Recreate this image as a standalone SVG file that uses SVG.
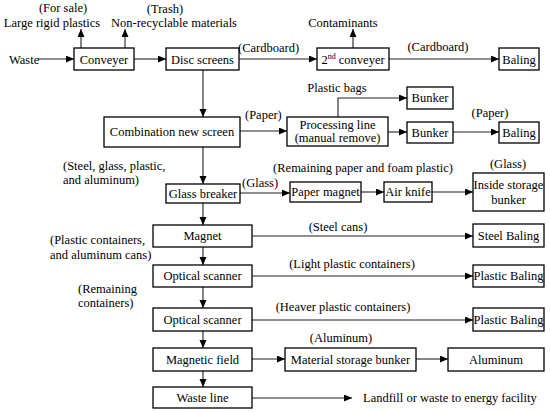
<svg xmlns="http://www.w3.org/2000/svg" width="550" height="412" viewBox="0 0 550 412" font-family="Liberation Serif, Tinos, DejaVu Serif, Times New Roman, serif">
<style>
text{font-family:'Liberation Serif','Tinos','DejaVu Serif','Times New Roman',serif;font-size:12.5px;fill:#000}
.c{text-anchor:middle}
rect{fill:#fff;stroke:#000;stroke-width:1.3}
#connectors path{fill:none;stroke:#222;stroke-width:1.1;marker-end:url(#ah)}
</style>
<defs>
<marker id="ah" markerUnits="userSpaceOnUse" markerWidth="9" markerHeight="8" refX="8" refY="3.5" orient="auto">
<path d="M0,0 L8,3.5 L0,7 z" fill="#000"/>
</marker>
</defs>
<rect width="550" height="412" style="fill:#fff;stroke:none"/>
<g id="connectors">
<path d="M38,59 H74"/>
<path d="M134,59 H166"/>
<path d="M81,48 V29"/>
<path d="M125,48 V29"/>
<path d="M239,59 H317"/>
<path d="M389,59 H499"/>
<path d="M353,48 V29"/>
<path d="M203,70 V117"/>
<path d="M240,131 H287"/>
<path d="M338,117 V98 H407"/>
<path d="M388,132 H407"/>
<path d="M453,132 H499"/>
<path d="M203,147 V184"/>
<path d="M240,193 H290"/>
<path d="M361,192 H384"/>
<path d="M432,192 H473"/>
<path d="M203,203 V225"/>
<path d="M252,236 H473"/>
<path d="M203,247 V265"/>
<path d="M252,276 H473"/>
<path d="M203,287 V308"/>
<path d="M252,320 H473"/>
<path d="M203,331 V348"/>
<path d="M252,359 H285"/>
<path d="M416,359 H448"/>
<path d="M203,371 V387"/>
<path d="M252,398 H352"/>
</g>
<g id="labels">
<text class="c" x="63" y="12">(For sale)</text>
<text class="c" x="52" y="27">Large rigid plastics</text>
<text class="c" x="165" y="13">(Trash)</text>
<text class="c" x="174" y="27">Non-recyclable materials</text>
<text x="9" y="64">Waste</text>
<text x="238" y="52">(Cardboard)</text>
<text class="c" x="343" y="27">Contaminants</text>
<text class="c" x="438" y="51">(Cardboard)</text>
<text x="245" y="119">(Paper)</text>
<text class="c" x="337" y="92">Plastic bags</text>
<text class="c" x="490" y="117">(Paper)</text>
<text x="63" y="170">(Steel, glass, plastic,</text>
<text x="63" y="184">and aluminum)</text>
<text x="242" y="187">(Glass)</text>
<text class="c" x="363" y="172">(Remaining paper and foam plastic)</text>
<text class="c" x="508" y="168">(Glass)</text>
<text class="c" x="338" y="231">(Steel cans)</text>
<text x="50" y="244">(Plastic containers,</text>
<text x="50" y="259">and aluminum cans)</text>
<text class="c" x="352" y="268">(Light plastic containers)</text>
<text x="78" y="293">(Remaining</text>
<text x="78" y="307">containers)</text>
<text class="c" x="343" y="311">(Heaver plastic containers)</text>
<text class="c" x="341" y="342">(Aluminum)</text>
<text x="363" y="402">Landfill or waste to energy facility</text>
</g>
<g id="conveyer"><rect x="74" y="48" width="60" height="22"/><text class="c" x="104" y="64">Conveyer</text></g>
<g id="disc-screens"><rect x="166" y="48" width="73" height="22"/><text class="c" x="202.5" y="64">Disc screens</text></g>
<g id="second-conveyer"><rect x="317" y="48" width="72" height="22"/><text class="c" x="353" y="64">2<tspan font-size="8" dy="-5">nd</tspan><tspan dy="5"> conveyer</tspan></text></g>
<g id="baling-1"><rect x="499" y="48" width="40" height="22"/><text class="c" x="519" y="64">Baling</text></g>
<g id="combination"><rect x="104" y="117" width="136" height="30"/><text class="c" x="172" y="136">Combination new screen</text></g>
<g id="processing-line"><rect x="287" y="117" width="101" height="29"/><text class="c" x="337.5" y="129">Processing line</text><text class="c" x="337.5" y="142">(manual remove)</text></g>
<g id="bunker-1"><rect x="407" y="87" width="46" height="22"/><text class="c" x="430" y="102">Bunker</text></g>
<g id="bunker-2"><rect x="407" y="122" width="46" height="21"/><text class="c" x="430" y="137">Bunker</text></g>
<g id="baling-2"><rect x="499" y="122" width="40" height="21"/><text class="c" x="519" y="137">Baling</text></g>
<g id="glass-breaker"><rect x="166" y="184" width="74" height="19"/><text class="c" x="203" y="198">Glass breaker</text></g>
<g id="paper-magnet"><rect x="290" y="182" width="71" height="20"/><text class="c" x="325.5" y="196">Paper magnet</text></g>
<g id="air-knife"><rect x="384" y="182" width="48" height="20"/><text class="c" x="408" y="196">Air knife</text></g>
<g id="inside-storage"><rect x="473" y="173" width="71" height="38"/><text class="c" x="508.5" y="189">Inside storage</text><text class="c" x="508.5" y="204">bunker</text></g>
<g id="magnet"><rect x="153" y="225" width="99" height="22"/><text class="c" x="202.5" y="240">Magnet</text></g>
<g id="steel-baling"><rect x="473" y="224" width="71" height="23"/><text class="c" x="508.5" y="240">Steel Baling</text></g>
<g id="optical-1"><rect x="153" y="265" width="99" height="22"/><text class="c" x="202.5" y="280">Optical scanner</text></g>
<g id="plastic-baling-1"><rect x="473" y="265" width="71" height="22"/><text class="c" x="508.5" y="280">Plastic Baling</text></g>
<g id="optical-2"><rect x="153" y="308" width="99" height="23"/><text class="c" x="202.5" y="324">Optical scanner</text></g>
<g id="plastic-baling-2"><rect x="473" y="308" width="71" height="23"/><text class="c" x="508.5" y="324">Plastic Baling</text></g>
<g id="magnetic-field"><rect x="153" y="348" width="99" height="23"/><text class="c" x="202.5" y="364">Magnetic field</text></g>
<g id="material-storage"><rect x="285" y="348" width="131" height="23"/><text class="c" x="350.5" y="364">Material storage bunker</text></g>
<g id="aluminum"><rect x="448" y="348" width="96" height="23"/><text class="c" x="496" y="364">Aluminum</text></g>
<g id="waste-line"><rect x="153" y="387" width="99" height="21"/><text class="c" x="202.5" y="402">Waste line</text></g>
</svg>
